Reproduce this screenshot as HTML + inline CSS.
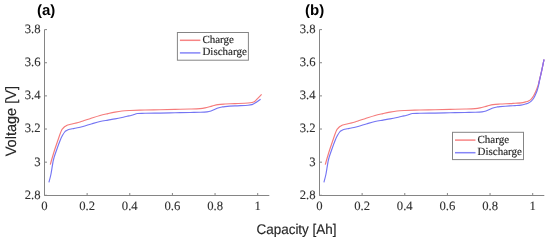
<!DOCTYPE html>
<html><head><meta charset="utf-8"><style>
html,body{margin:0;padding:0;background:#fff;}
body{width:550px;height:240px;overflow:hidden;}
svg{display:block;}
text{text-rendering:geometricPrecision;}
.tk{font-family:"Liberation Serif",serif;font-size:12.7px;fill:#303030;stroke:#303030;stroke-width:0.1px;}
.lg{font-family:"Liberation Serif",serif;font-size:11px;fill:#262626;stroke:#262626;stroke-width:0.15px;}
.lab{font-family:"Liberation Sans",sans-serif;font-size:13.5px;fill:#262626;stroke:#262626;stroke-width:0.15px;}
.pn{font-family:"Liberation Sans",sans-serif;font-size:15px;font-weight:bold;fill:#000;}
</style></head><body>
<svg width="550" height="240" viewBox="0 0 550 240">
<rect width="550" height="240" fill="#fff"/>
<path d="M44.5,29.6 V195.5 H269.3" fill="none" stroke="#858585" stroke-width="1"/>
<path d="M44.5,195.30 h2.5" stroke="#858585" stroke-width="1"/>
<text x="40.60" y="198.70" class="tk" text-anchor="end">2.8</text>
<path d="M44.5,162.16 h2.5" stroke="#858585" stroke-width="1"/>
<text x="40.60" y="165.56" class="tk" text-anchor="end">3</text>
<path d="M44.5,129.02 h2.5" stroke="#858585" stroke-width="1"/>
<text x="40.60" y="132.42" class="tk" text-anchor="end">3.2</text>
<path d="M44.5,95.88 h2.5" stroke="#858585" stroke-width="1"/>
<text x="40.60" y="99.28" class="tk" text-anchor="end">3.4</text>
<path d="M44.5,62.74 h2.5" stroke="#858585" stroke-width="1"/>
<text x="40.60" y="66.14" class="tk" text-anchor="end">3.6</text>
<path d="M44.5,29.60 h2.5" stroke="#858585" stroke-width="1"/>
<text x="40.60" y="33.00" class="tk" text-anchor="end">3.8</text>
<path d="M44.50,195.5 v-2.5" stroke="#858585" stroke-width="1"/>
<text x="44.50" y="210.3" class="tk" text-anchor="middle">0</text>
<path d="M87.14,195.5 v-2.5" stroke="#858585" stroke-width="1"/>
<text x="87.14" y="210.3" class="tk" text-anchor="middle">0.2</text>
<path d="M129.78,195.5 v-2.5" stroke="#858585" stroke-width="1"/>
<text x="129.78" y="210.3" class="tk" text-anchor="middle">0.4</text>
<path d="M172.42,195.5 v-2.5" stroke="#858585" stroke-width="1"/>
<text x="172.42" y="210.3" class="tk" text-anchor="middle">0.6</text>
<path d="M215.06,195.5 v-2.5" stroke="#858585" stroke-width="1"/>
<text x="215.06" y="210.3" class="tk" text-anchor="middle">0.8</text>
<path d="M257.70,195.5 v-2.5" stroke="#858585" stroke-width="1"/>
<text x="257.70" y="210.3" class="tk" text-anchor="middle">1</text>
<path d="M50.30,164.60 C50.63,163.42 51.58,159.93 52.30,157.50 C53.02,155.07 53.65,152.92 54.60,150.00 C55.55,147.08 57.15,142.50 58.00,140.00 C58.85,137.50 59.08,136.67 59.70,135.00 C60.32,133.33 61.10,131.17 61.70,130.00 C62.30,128.83 62.70,128.62 63.30,128.00 C63.90,127.38 64.57,126.80 65.30,126.30 C66.03,125.80 66.58,125.38 67.70,125.00 C68.82,124.62 70.78,124.28 72.00,124.00 C73.22,123.72 73.67,123.63 75.00,123.30 C76.33,122.97 78.33,122.50 80.00,122.00 C81.67,121.50 83.33,120.85 85.00,120.30 C86.67,119.75 87.50,119.50 90.00,118.70 C92.50,117.90 97.00,116.35 100.00,115.50 C103.00,114.65 105.50,114.17 108.00,113.60 C110.50,113.03 112.67,112.53 115.00,112.10 C117.33,111.67 119.50,111.27 122.00,111.00 C124.50,110.73 126.17,110.67 130.00,110.50 C133.83,110.33 140.00,110.12 145.00,110.00 C150.00,109.88 155.00,109.85 160.00,109.75 C165.00,109.65 170.00,109.53 175.00,109.40 C180.00,109.28 185.83,109.13 190.00,109.00 C194.17,108.87 197.50,108.78 200.00,108.60 C202.50,108.42 203.00,108.32 205.00,107.90 C207.00,107.48 209.83,106.65 212.00,106.10 C214.17,105.55 215.83,104.95 218.00,104.60 C220.17,104.25 222.17,104.17 225.00,104.00 C227.83,103.83 231.17,103.77 235.00,103.60 C238.83,103.43 245.17,103.18 248.00,103.00 C250.83,102.82 250.83,102.80 252.00,102.50 C253.17,102.20 254.00,101.93 255.00,101.20 C256.00,100.47 256.90,99.25 258.00,98.10 C259.10,96.95 261.00,94.93 261.60,94.30" fill="none" stroke="#f57b7b" stroke-width="1.15" stroke-linejoin="round"/>
<path d="M48.90,182.40 C49.25,181.00 50.25,177.73 51.00,174.00 C51.75,170.27 52.47,164.00 53.40,160.00 C54.33,156.00 55.45,153.33 56.60,150.00 C57.75,146.67 59.28,142.50 60.30,140.00 C61.32,137.50 61.97,136.33 62.70,135.00 C63.43,133.67 64.10,132.72 64.70,132.00 C65.30,131.28 65.63,131.12 66.30,130.70 C66.97,130.28 67.75,129.82 68.70,129.50 C69.65,129.18 70.95,129.00 72.00,128.80 C73.05,128.60 73.83,128.52 75.00,128.30 C76.17,128.08 77.67,127.80 79.00,127.50 C80.33,127.20 81.67,126.87 83.00,126.50 C84.33,126.13 85.50,125.77 87.00,125.30 C88.50,124.83 89.83,124.33 92.00,123.70 C94.17,123.07 97.33,122.10 100.00,121.50 C102.67,120.90 105.50,120.53 108.00,120.10 C110.50,119.67 112.67,119.33 115.00,118.90 C117.33,118.47 120.00,117.93 122.00,117.50 C124.00,117.07 125.50,116.63 127.00,116.30 C128.50,115.97 129.83,115.80 131.00,115.50 C132.17,115.20 132.92,114.83 134.00,114.50 C135.08,114.17 135.67,113.70 137.50,113.50 C139.33,113.30 141.25,113.37 145.00,113.30 C148.75,113.23 155.00,113.18 160.00,113.10 C165.00,113.02 170.00,112.90 175.00,112.80 C180.00,112.70 185.83,112.58 190.00,112.50 C194.17,112.42 197.17,112.40 200.00,112.30 C202.83,112.20 205.17,112.12 207.00,111.90 C208.83,111.68 209.67,111.43 211.00,111.00 C212.33,110.57 213.83,109.80 215.00,109.30 C216.17,108.80 216.83,108.38 218.00,108.00 C219.17,107.62 220.83,107.23 222.00,107.00 C223.17,106.77 222.83,106.78 225.00,106.60 C227.17,106.42 231.17,106.13 235.00,105.90 C238.83,105.67 245.17,105.42 248.00,105.20 C250.83,104.98 250.83,104.95 252.00,104.60 C253.17,104.25 253.57,104.00 255.00,103.10 C256.43,102.20 259.67,99.85 260.60,99.20" fill="none" stroke="#7575f3" stroke-width="1.15" stroke-linejoin="round"/>
<rect x="177.4" y="32.5" width="71" height="27.7" fill="#fff" stroke="#858585" stroke-width="1"/>
<path d="M179.9,40.3 h20.5" stroke="#f78585" stroke-width="1.5"/>
<path d="M179.9,52.9 h20.5" stroke="#8585f7" stroke-width="1.5"/>
<text x="202.4" y="42.7" class="lg">Charge</text>
<text x="202.4" y="54.8" class="lg">Discharge</text>
<path d="M319.5,29.6 V195.5 H544.3" fill="none" stroke="#858585" stroke-width="1"/>
<path d="M319.5,195.30 h2.5" stroke="#858585" stroke-width="1"/>
<text x="315.60" y="198.70" class="tk" text-anchor="end">2.8</text>
<path d="M319.5,162.16 h2.5" stroke="#858585" stroke-width="1"/>
<text x="315.60" y="165.56" class="tk" text-anchor="end">3</text>
<path d="M319.5,129.02 h2.5" stroke="#858585" stroke-width="1"/>
<text x="315.60" y="132.42" class="tk" text-anchor="end">3.2</text>
<path d="M319.5,95.88 h2.5" stroke="#858585" stroke-width="1"/>
<text x="315.60" y="99.28" class="tk" text-anchor="end">3.4</text>
<path d="M319.5,62.74 h2.5" stroke="#858585" stroke-width="1"/>
<text x="315.60" y="66.14" class="tk" text-anchor="end">3.6</text>
<path d="M319.5,29.60 h2.5" stroke="#858585" stroke-width="1"/>
<text x="315.60" y="33.00" class="tk" text-anchor="end">3.8</text>
<path d="M319.50,195.5 v-2.5" stroke="#858585" stroke-width="1"/>
<text x="319.50" y="210.3" class="tk" text-anchor="middle">0</text>
<path d="M362.14,195.5 v-2.5" stroke="#858585" stroke-width="1"/>
<text x="362.14" y="210.3" class="tk" text-anchor="middle">0.2</text>
<path d="M404.78,195.5 v-2.5" stroke="#858585" stroke-width="1"/>
<text x="404.78" y="210.3" class="tk" text-anchor="middle">0.4</text>
<path d="M447.42,195.5 v-2.5" stroke="#858585" stroke-width="1"/>
<text x="447.42" y="210.3" class="tk" text-anchor="middle">0.6</text>
<path d="M490.06,195.5 v-2.5" stroke="#858585" stroke-width="1"/>
<text x="490.06" y="210.3" class="tk" text-anchor="middle">0.8</text>
<path d="M532.70,195.5 v-2.5" stroke="#858585" stroke-width="1"/>
<text x="532.70" y="210.3" class="tk" text-anchor="middle">1</text>
<path d="M325.30,164.60 C325.63,163.42 326.58,159.93 327.30,157.50 C328.02,155.07 328.65,152.92 329.60,150.00 C330.55,147.08 332.15,142.50 333.00,140.00 C333.85,137.50 334.08,136.67 334.70,135.00 C335.32,133.33 336.10,131.17 336.70,130.00 C337.30,128.83 337.70,128.62 338.30,128.00 C338.90,127.38 339.57,126.80 340.30,126.30 C341.03,125.80 341.58,125.38 342.70,125.00 C343.82,124.62 345.78,124.28 347.00,124.00 C348.22,123.72 348.67,123.63 350.00,123.30 C351.33,122.97 353.33,122.50 355.00,122.00 C356.67,121.50 358.33,120.85 360.00,120.30 C361.67,119.75 362.50,119.50 365.00,118.70 C367.50,117.90 372.00,116.35 375.00,115.50 C378.00,114.65 380.50,114.17 383.00,113.60 C385.50,113.03 387.67,112.53 390.00,112.10 C392.33,111.67 394.50,111.27 397.00,111.00 C399.50,110.73 401.17,110.67 405.00,110.50 C408.83,110.33 415.00,110.12 420.00,110.00 C425.00,109.88 430.00,109.85 435.00,109.75 C440.00,109.65 445.00,109.53 450.00,109.40 C455.00,109.28 460.83,109.13 465.00,109.00 C469.17,108.87 472.50,108.78 475.00,108.60 C477.50,108.42 478.00,108.32 480.00,107.90 C482.00,107.48 484.83,106.65 487.00,106.10 C489.17,105.55 490.83,104.95 493.00,104.60 C495.17,104.25 497.17,104.17 500.00,104.00 C502.83,103.83 507.50,103.73 510.00,103.60 C512.50,103.47 513.17,103.32 515.00,103.20 C516.83,103.08 519.17,103.13 521.00,102.90 C522.83,102.67 524.75,102.13 526.00,101.80 C527.25,101.47 527.67,101.32 528.50,100.90 C529.33,100.48 530.17,100.12 531.00,99.30 C531.83,98.48 532.73,97.25 533.50,96.00 C534.27,94.75 534.98,93.18 535.60,91.80 C536.23,90.42 536.77,89.00 537.25,87.70 C537.73,86.40 538.09,85.45 538.50,84.00 C538.91,82.55 539.22,81.00 539.70,79.00 C540.18,77.00 540.68,75.22 541.40,72.00 C542.12,68.78 543.57,61.75 544.00,59.70" fill="none" stroke="#f57b7b" stroke-width="1.15" stroke-linejoin="round"/>
<path d="M323.90,182.40 C324.25,181.00 325.25,177.73 326.00,174.00 C326.75,170.27 327.47,164.00 328.40,160.00 C329.33,156.00 330.45,153.33 331.60,150.00 C332.75,146.67 334.28,142.50 335.30,140.00 C336.32,137.50 336.97,136.33 337.70,135.00 C338.43,133.67 339.10,132.72 339.70,132.00 C340.30,131.28 340.63,131.12 341.30,130.70 C341.97,130.28 342.75,129.82 343.70,129.50 C344.65,129.18 345.95,129.00 347.00,128.80 C348.05,128.60 348.83,128.52 350.00,128.30 C351.17,128.08 352.67,127.80 354.00,127.50 C355.33,127.20 356.67,126.87 358.00,126.50 C359.33,126.13 360.50,125.77 362.00,125.30 C363.50,124.83 364.83,124.33 367.00,123.70 C369.17,123.07 372.33,122.10 375.00,121.50 C377.67,120.90 380.50,120.53 383.00,120.10 C385.50,119.67 387.67,119.33 390.00,118.90 C392.33,118.47 395.00,117.93 397.00,117.50 C399.00,117.07 400.50,116.63 402.00,116.30 C403.50,115.97 404.83,115.80 406.00,115.50 C407.17,115.20 407.92,114.83 409.00,114.50 C410.08,114.17 410.67,113.70 412.50,113.50 C414.33,113.30 416.25,113.37 420.00,113.30 C423.75,113.23 430.00,113.18 435.00,113.10 C440.00,113.02 445.00,112.90 450.00,112.80 C455.00,112.70 460.83,112.58 465.00,112.50 C469.17,112.42 472.17,112.40 475.00,112.30 C477.83,112.20 480.17,112.12 482.00,111.90 C483.83,111.68 484.67,111.43 486.00,111.00 C487.33,110.57 488.83,109.80 490.00,109.30 C491.17,108.80 491.83,108.38 493.00,108.00 C494.17,107.62 495.83,107.23 497.00,107.00 C498.17,106.77 497.83,106.78 500.00,106.60 C502.17,106.42 507.50,106.07 510.00,105.90 C512.50,105.73 513.17,105.73 515.00,105.60 C516.83,105.47 519.17,105.38 521.00,105.10 C522.83,104.82 524.75,104.25 526.00,103.90 C527.25,103.55 527.67,103.42 528.50,103.00 C529.33,102.58 530.17,102.15 531.00,101.40 C531.83,100.65 532.73,99.68 533.50,98.50 C534.27,97.32 534.98,95.68 535.60,94.30 C536.23,92.92 536.78,91.55 537.25,90.20 C537.72,88.85 538.01,87.82 538.40,86.20 C538.79,84.58 539.10,82.87 539.60,80.50 C540.10,78.13 540.67,75.47 541.40,72.00 C542.13,68.53 543.57,61.75 544.00,59.70" fill="none" stroke="#7575f3" stroke-width="1.15" stroke-linejoin="round"/>
<rect x="452.5" y="132.3" width="71" height="27.3" fill="#fff" stroke="#858585" stroke-width="1"/>
<path d="M455.0,140.10000000000002 h20.5" stroke="#f78585" stroke-width="1.5"/>
<path d="M455.0,152.70000000000002 h20.5" stroke="#8585f7" stroke-width="1.5"/>
<text x="477.5" y="142.5" class="lg">Charge</text>
<text x="477.5" y="154.60000000000002" class="lg">Discharge</text>
<path d="M538.6,84 L539.7,79 L541.4,72 L544.0,59.7" fill="none" stroke="#9670e8" stroke-width="1.15" stroke-linecap="round"/>
<text x="37" y="15.2" class="pn">(a)</text>
<text x="305" y="15.2" class="pn">(b)</text>
<text x="256.5" y="233.7" class="lab" style="font-size:14px" textLength="80" lengthAdjust="spacingAndGlyphs">Capacity [Ah]</text>
<text transform="translate(15.8,156.3) rotate(-90)" class="lab" style="font-size:15px" textLength="70.3" lengthAdjust="spacingAndGlyphs">Voltage [V]</text>
</svg>
</body></html>
